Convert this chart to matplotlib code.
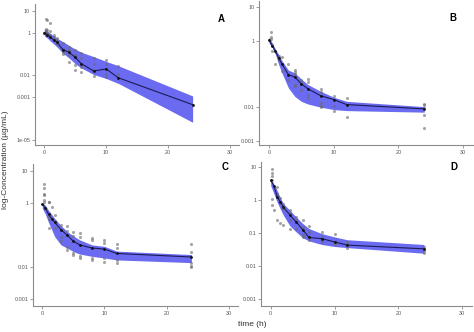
import matplotlib
matplotlib.use("Agg")
import matplotlib.pyplot as plt
import numpy as np

plt.rcParams['font.family'] = ['Liberation Sans', 'DejaVu Sans']

# ---------------- data ----------------
t_grid = [0, 0.5, 1, 1.5, 2, 3, 4, 5, 6, 8, 10, 12, 24]

A_upper = [1.5, 1.15, 0.9, 0.7, 0.55, 0.38, 0.25, 0.17, 0.12, 0.075, 0.045, 0.028, 0.0011]
A_lower = [0.7, 0.55, 0.4, 0.3, 0.22, 0.11, 0.065, 0.035, 0.022, 0.011, 0.0072, 0.0042, 6.5e-5]
A_line = [1.0, 0.8, 0.62, 0.45, 0.37, 0.16, 0.12, 0.07, 0.035, 0.016, 0.02, 0.0077, 4.3e-4]

B_upper = [1.3, 0.85, 0.55, 0.38, 0.25, 0.13, 0.107, 0.07, 0.048, 0.030, 0.020, 0.015, 0.0104]
B_lower = [0.85, 0.62, 0.38, 0.19, 0.107, 0.038, 0.021, 0.015, 0.0125, 0.010, 0.0085, 0.0079, 0.0071]
B_line = [1.05, 0.7, 0.48, 0.3, 0.2, 0.095, 0.08, 0.05, 0.036, 0.022, 0.017, 0.012, 0.0089]

C_upper = [1.05, 0.85, 0.6, 0.45, 0.33, 0.2, 0.13, 0.095, 0.072, 0.05, 0.045, 0.032, 0.025]
C_lower = [0.7, 0.45, 0.25, 0.15, 0.09, 0.05, 0.04, 0.031, 0.026, 0.022, 0.0195, 0.017, 0.014]
C_line = [0.93, 0.7, 0.45, 0.33, 0.25, 0.15, 0.1, 0.065, 0.05, 0.04, 0.037, 0.027, 0.021]

D_upper = [4.5, 3.1, 2.0, 1.2, 0.79, 0.5, 0.31, 0.2, 0.14, 0.098, 0.078, 0.064, 0.046]
D_lower = [2.8, 1.6, 0.89, 0.55, 0.35, 0.17, 0.11, 0.074, 0.059, 0.046, 0.04, 0.037, 0.025]
D_line = [4.0, 2.8, 1.3, 0.9, 0.62, 0.36, 0.22, 0.13, 0.075, 0.069, 0.055, 0.044, 0.034]

A_obs_t = [0.25]*5 + [0.5]*4 + [1]*4 + [1.5]*3 + [2]*4 + [3]*4 + [4]*4 + [5]*4 + [6]*4 + [8]*4 + [10]*5 + [12]*3
A_obs_c = [4.3, 1.5, 1.2, 1.0, 0.85,
           3.9, 1.3, 0.9, 0.75,
           2.7, 1.15, 0.8, 0.65,
           0.78, 0.6, 0.45,
           0.55, 0.45, 0.33, 0.3,
           0.33, 0.17, 0.12, 0.10,
           0.21, 0.145, 0.085, 0.041,
           0.155, 0.085, 0.029, 0.018,
           0.112, 0.066, 0.024, 0.014,
           0.066, 0.035, 0.018, 0.0092,
           0.053, 0.035, 0.020, 0.0118, 0.0085,
           0.027, 0.0118, 0.0074]

B_obs_t = [0.25]*3 + [0.5]*2 + [1]*1 + [1.5]*2 + [2]*2 + [3]*2 + [4]*5 + [5]*3 + [6]*4 + [8]*5 + [10]*3 + [12]*2 + [24]*5
B_obs_c = [1.8, 1.3, 1.1,
           0.73, 0.5,
           0.2,
           0.34, 0.27,
           0.32, 0.12,
           0.2, 0.067,
           0.134, 0.114, 0.1, 0.048, 0.042,
           0.067, 0.053, 0.032,
           0.07, 0.056, 0.023, 0.019,
           0.036, 0.029, 0.013, 0.011, 0.010,
           0.021, 0.0107, 0.0075,
           0.019, 0.005,
           0.0125, 0.0114, 0.0095, 0.0057, 0.0024]

C_obs_t = [0.25]*6 + [1]*5 + [1.5]*1 + [2]*3 + [3]*3 + [4]*4 + [5]*4 + [6]*4 + [8]*4 + [10]*4 + [12]*4 + [24]*5
C_obs_c = [4.0, 2.9, 1.95, 1.8, 1.27, 1.12,
           1.12, 1.05, 0.4, 0.32, 0.17,
           0.78,
           0.43, 0.27, 0.17,
           0.21, 0.09, 0.064,
           0.19, 0.14, 0.044, 0.035,
           0.13, 0.096, 0.028, 0.024,
           0.12, 0.091, 0.022, 0.019,
           0.081, 0.072, 0.019, 0.017,
           0.072, 0.057, 0.019, 0.015,
           0.054, 0.04, 0.017, 0.014,
           0.054, 0.031, 0.0135, 0.0112, 0.0102]

D_obs_t = [0.25]*6 + [0.5]*1 + [1]*3 + [1.5]*3 + [2]*4 + [3]*4 + [4]*3 + [5]*4 + [6]*4 + [8]*4 + [10]*3 + [12]*3 + [24]*4
D_obs_c = [9.0, 6.5, 5.5, 4.0, 1.1, 0.74,
           0.5,
           2.6, 1.6, 0.25,
           1.2, 0.9, 0.2,
           0.8, 0.65, 0.55, 0.18,
           0.52, 0.41, 0.26, 0.14,
           0.32, 0.26, 0.14,
           0.26, 0.16, 0.088, 0.075,
           0.17, 0.11, 0.079, 0.064,
           0.11, 0.079, 0.061, 0.054,
           0.098, 0.054, 0.049,
           0.054, 0.043, 0.037,
           0.04, 0.034, 0.03, 0.026]

panels = [
    dict(label='A', upper=A_upper, lower=A_lower, line=A_line, ot=A_obs_t, oc=A_obs_c,
         box=(35, 4, 239, 145), ylim=(10**-5.247, 10**1.33),
         yticks=[10, 1, 0.01, 0.001, 1e-5], yticklabels=['10', '1', '0.01', '0.001', '1e-05'],
         letter=(221, 19)),
    dict(label='B', upper=B_upper, lower=B_lower, line=B_line, ot=B_obs_t, oc=B_obs_c,
         box=(259.3, 1, 472.8, 145), ylim=(10**-3.135, 10**1.19),
         yticks=[10, 1, 0.01, 0.001], yticklabels=['10', '1', '0.01', '0.001'],
         letter=(453, 18)),
    dict(label='C', upper=C_upper, lower=C_lower, line=C_line, ot=C_obs_t, oc=C_obs_c,
         box=(33, 164, 238, 305.7), ylim=(10**-3.196, 10**1.22),
         yticks=[10, 1, 0.01, 0.001], yticklabels=['10', '1', '0.01', '0.001'],
         letter=(225, 167)),
    dict(label='D', upper=D_upper, lower=D_lower, line=D_line, ot=D_obs_t, oc=D_obs_c,
         box=(261.1, 162, 471.9, 305.7), ylim=(10**-3.19, 10**1.16),
         yticks=[10, 1, 0.1, 0.01, 0.001], yticklabels=['10', '1', '0.1', '0.01', '0.001'],
         letter=(454, 167)),
]

W, H = 474, 332
fig = plt.figure(figsize=(W / 100, H / 100), dpi=100)
fig.patch.set_facecolor('white')

axis_col = '#8c8c8c'
band_col = '#6b6bf2'
line_col = '#1c1c55'

for p in panels:
    x0, y0, x1, y1 = p['box']
    ax = fig.add_axes([x0 / W, 1 - y1 / H, (x1 - x0) / W, (y1 - y0) / H])
    ax.fill_between(t_grid, p['lower'], p['upper'], color=band_col, lw=0, zorder=1)
    ax.scatter(p['ot'], p['oc'], s=5, color='#6a6a6a', alpha=0.6, lw=0, zorder=2)
    ax.plot(t_grid, p['line'], color=line_col, lw=0.8, zorder=3,
            marker='o', ms=1.0, mfc='#111111', mec='#111111')
    ax.set_yscale('log')
    ax.set_xlim(-1.5, 31.5)
    ax.set_ylim(*p['ylim'])
    ax.set_xticks([0, 10, 20, 30])
    ax.set_xticklabels(['0', '10', '20', '30'])
    ax.set_yticks(p['yticks'])
    ax.set_yticklabels(p['yticklabels'])
    ax.yaxis.set_minor_locator(matplotlib.ticker.NullLocator())
    for s in ['top', 'right']:
        ax.spines[s].set_visible(False)
    for s in ['left', 'bottom']:
        ax.spines[s].set_color(axis_col)
        ax.spines[s].set_linewidth(0.8)
    ax.tick_params(axis='both', colors=axis_col, labelcolor='#555555', labelsize=3.9,
                   length=2, width=0.6, pad=1.5)
    ax.set_facecolor('none')
    fig.text(p['letter'][0] / W, 1 - p['letter'][1] / H, p['label'], ha='center', va='center',
             fontsize=7, fontweight='bold', color='black')

fig.text(6 / W, 1 - 160 / H, 'log-Concentration (µg/mL)', rotation=90, ha='center', va='center',
         fontsize=6, color='#333333')
fig.text(252 / W, 1 - 325 / H, 'time (h)', ha='center', va='center', fontsize=6, color='#333333')

fig.savefig('out.png', dpi=100)
